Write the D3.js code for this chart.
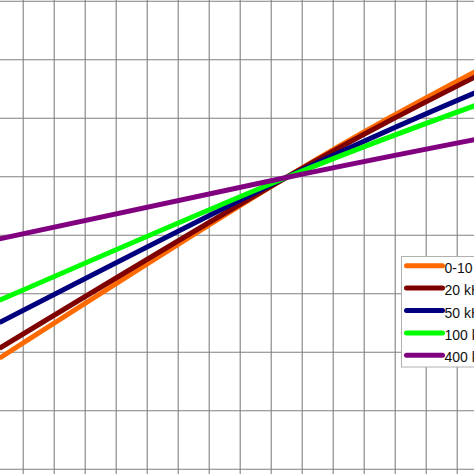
<!DOCTYPE html>
<html>
<head>
<meta charset="utf-8">
<script src="https://cdn.jsdelivr.net/npm/d3@7"></script>
<style>
  body { margin: 0; background: #fff; }
  svg { display: block; }
  .grid line { stroke: #808080; stroke-width: 1.1; }
  .grid path { display: none; }
</style>
</head>
<body>
<div id="chart"></div>
<script>
// sample positions along x (grid units): left edge, crossing point, right edge
var x_points = [-0.75, 8.5, 14.6];

var names = ["0-10 kHz", "20 kHz", "50 kHz", "100 kHz", "400 kHz"];
var colors = ["#ff6a00", "#7f0000", "#00007f", "#00ff00", "#800080"];

var orange_vals = [1.89, 4.98, 6.79];
var darkred_vals = [2.06, 4.98, 6.70];
var blue_vals = [2.50, 4.98, 6.43];
var green_vals = [2.88, 4.98, 6.21];
var purple_vals = [3.93, 4.98, 5.63];

var x_ticks = d3.range(-1, 16);
var y_ticks = d3.range(0, 9);

var width = 474, height = 474;

var series = [orange_vals, darkred_vals, blue_vals, green_vals, purple_vals].map(function(vals, i) {
  return {
    name: names[i],
    color: colors[i],
    values: vals.map(function(v, j) { return {x: x_points[j], y: v}; })
  };
});

var x = d3.scaleLinear().domain([0, 15]).range([22.7, 487.7]);
var y = d3.scaleLinear().domain([0, 8]).range([468.8, 0.8]);

var svg = d3.select("#chart").append("svg")
    .attr("width", width)
    .attr("height", height);

svg.append("rect")
    .attr("width", width)
    .attr("height", height)
    .attr("fill", "#fff");

// grid lines, drawn as axes with full-length ticks
svg.append("g")
    .attr("class", "grid")
    .attr("transform", "translate(0," + height + ")")
    .call(d3.axisBottom(x).tickValues(x_ticks).tickSize(-height).tickFormat(""));

svg.append("g")
    .attr("class", "grid")
    .call(d3.axisLeft(y).tickValues(y_ticks).tickSize(-width).tickFormat(""));

var line = d3.line()
    .x(function(d) { return x(d.x); })
    .y(function(d) { return y(d.y); })
    .curve(d3.curveNatural);

svg.selectAll(".curve")
    .data(series)
  .enter().append("path")
    .attr("class", "curve")
    .attr("d", function(d) { return line(d.values); })
    .attr("fill", "none")
    .attr("stroke", function(d) { return d.color; })
    .attr("stroke-width", 5);

// legend (cut by the right edge like the reference)
var legend = svg.append("g")
    .attr("transform", "translate(401.5,256.5)");

legend.append("rect")
    .attr("width", 110)
    .attr("height", 110.5)
    .attr("fill", "#fff")
    .attr("stroke", "#b0b0b0")
    .attr("stroke-width", 1);

var item = legend.selectAll(".item")
    .data(series)
  .enter().append("g")
    .attr("class", "item")
    .attr("transform", function(d, i) { return "translate(0," + (9.2 + i * 22.4) + ")"; });

item.append("line")
    .attr("x1", 5)
    .attr("x2", 41)
    .attr("stroke", function(d) { return d.color; })
    .attr("stroke-width", 5)
    .attr("stroke-linecap", "round");

item.append("text")
    .attr("x", 43)
    .attr("y", 7)
    .attr("font-family", "Liberation Sans, Arial, sans-serif")
    .attr("font-size", 14)
    .attr("fill", "#111")
    .text(function(d) { return d.name; });
</script>
</body>
</html>
